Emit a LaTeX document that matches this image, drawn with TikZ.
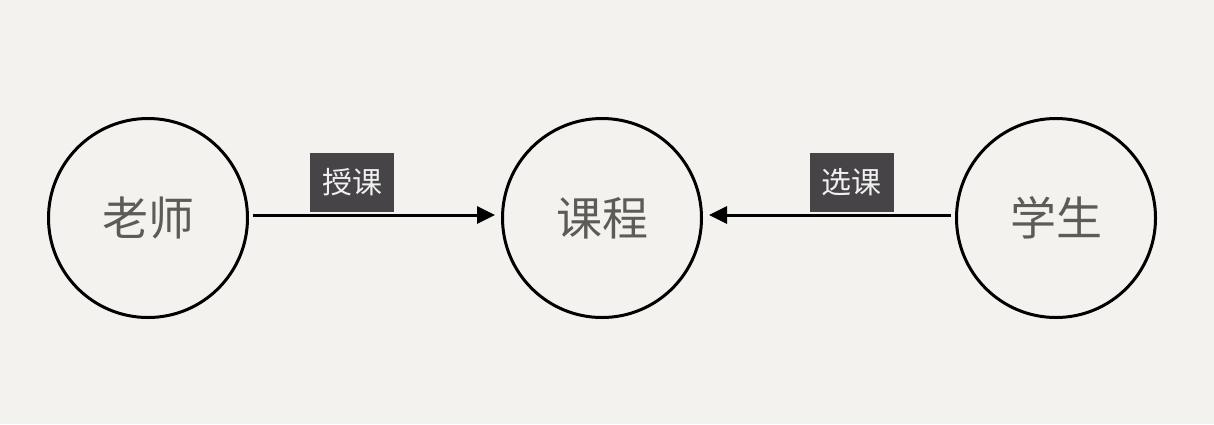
\documentclass[tikz,border=0pt]{standalone}
\usepackage{fontspec}
\newfontfamily\cjk{Noto Sans CJK SC}
\usepackage{tikz}
\usetikzlibrary{arrows.meta,shapes}
\definecolor{paper}{RGB}{243,242,238}
\definecolor{inkgray}{RGB}{94,90,87}
\definecolor{tagbg}{RGB}{71,68,71}
\tikzstyle{entity}=[circle,draw=black,line width=3pt,minimum size=199pt,inner sep=0pt,text=inkgray,font=\cjk\fontsize{46}{46}\selectfont]
\tikzstyle{rel} = [draw,line width=3pt,-{Triangle[length=18pt,width=17pt]}]
\tikzstyle{tag}=[fill=tagbg,text=white!94!black,minimum width=84pt,minimum height=59pt,inner sep=0pt,font=\cjk\fontsize{30}{30}\selectfont]

\begin{document}
\begin{tikzpicture}[x=1pt,y=-1pt]
    \useasboundingbox[fill=paper] (0,0) rectangle (1214,424);
    % First we draw the entities
    \foreach \pos/\name/\txt in {{(148,218)/teacher/老师}, {(602,218)/course/课程}, {(1056,218)/student/学生}}
        \node[entity] (\name) at \pos {\txt};
    % Connect entities with labelled relations
    \foreach \source/\dest/\txt in {teacher.east/course.west/授课, student.west/course.east/选课}
        \path[rel,shorten <=4pt,shorten >=6pt] ([yshift=3pt]\source) -- ([yshift=3pt]\dest)
            node[tag,pos=0.41,anchor=south,yshift=1.5pt] {\txt};
\end{tikzpicture}
\end{document}
